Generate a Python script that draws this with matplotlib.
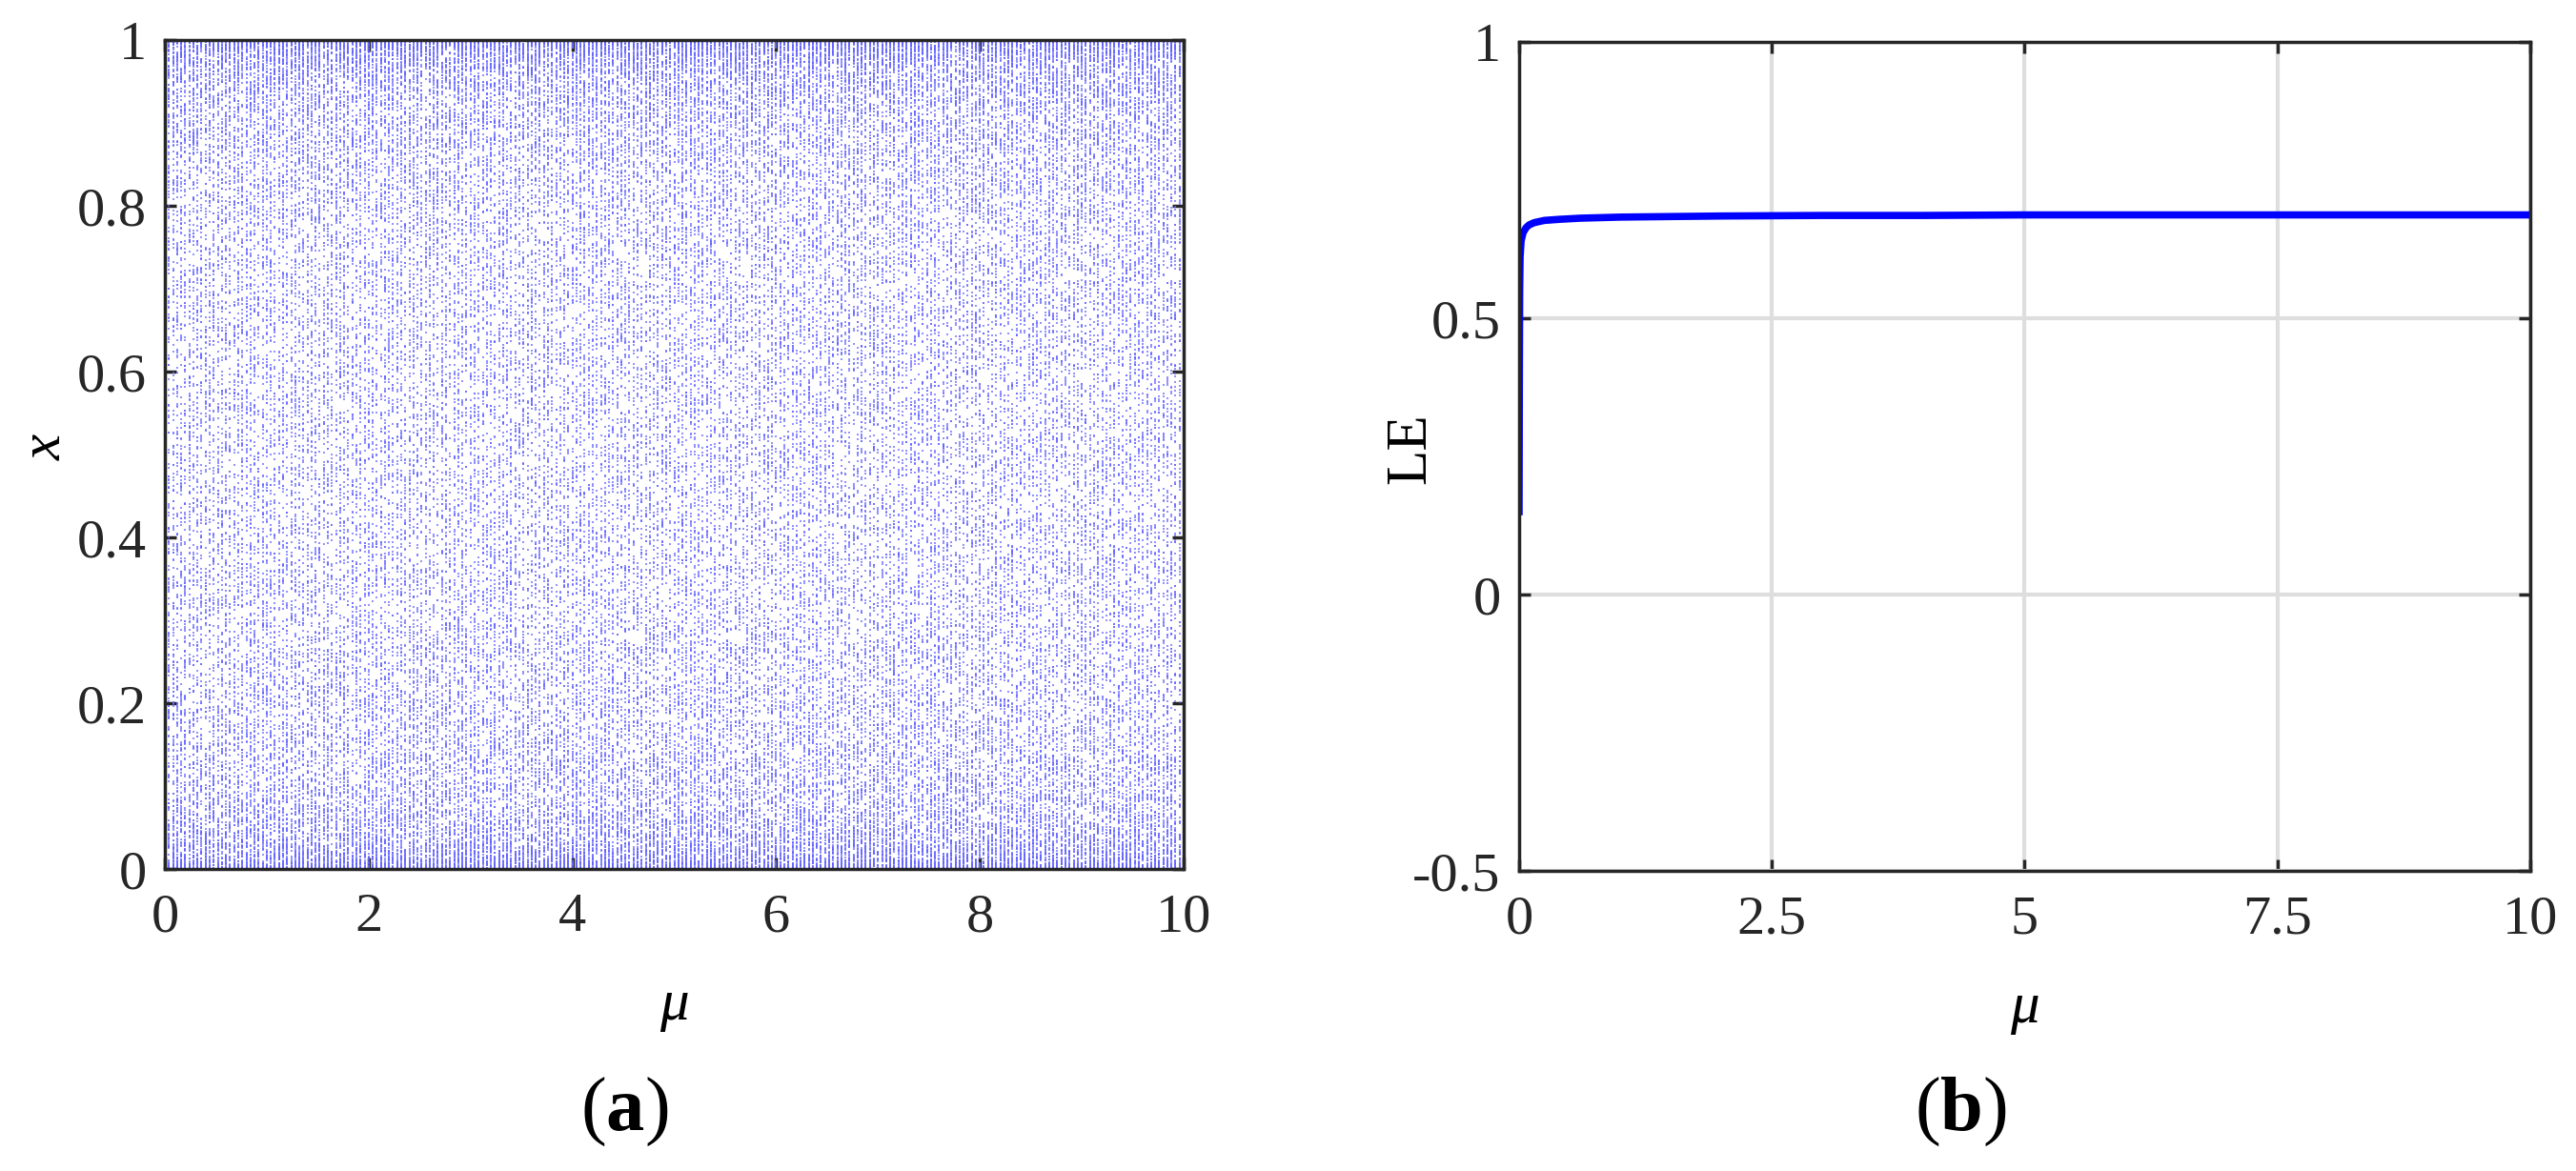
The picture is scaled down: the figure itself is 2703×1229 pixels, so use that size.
import numpy as np
import matplotlib
matplotlib.use("Agg")
import matplotlib.pyplot as plt

# (a) bifurcation scan: parameter grid and the map settings
mu_grid = np.arange(0.0, 10.0001, 0.04)
theta_start = 0.3
slope_k = 2.001
n_transient = 300
n_keep = 320

# (b) Lyapunov exponent
mu_le = [0.0, 0.003, 0.006, 0.01, 0.02, 0.04, 0.07, 0.1, 0.15, 0.25, 0.4,
         0.6, 1.0, 1.5, 2.0, 3.0, 4.0, 5.0, 6.0, 7.0, 8.0, 9.0, 10.0]
le_vals = [0.15, 0.40, 0.55, 0.61, 0.64, 0.655, 0.664, 0.669, 0.673, 0.677, 0.679,
           0.681, 0.683, 0.684, 0.685, 0.686, 0.686, 0.687, 0.687, 0.687, 0.687, 0.687, 0.687]

a_xticks = [0, 2, 4, 6, 8, 10]
a_yticks = [0, 0.2, 0.4, 0.6, 0.8, 1]
a_ylabels = ["0", "0.2", "0.4", "0.6", "0.8", "1"]
b_xticks = [0, 2.5, 5, 7.5, 10]
b_xlabels = ["0", "2.5", "5", "7.5", "10"]
b_yticks = [-0.5, 0, 0.5, 1]
b_ylabels = ["-0.5", "0", "0.5", "1"]

plt.rcParams["font.family"] = ["Liberation Serif", "DejaVu Serif"]
plt.rcParams["mathtext.fontset"] = "custom"
plt.rcParams["mathtext.rm"] = "Liberation Serif"
plt.rcParams["mathtext.it"] = "Liberation Serif:italic"
plt.rcParams["mathtext.bf"] = "Liberation Serif:bold"

edge = "#262626"
fig = plt.figure(figsize=(27.03, 12.29), dpi=100)

# ---- (a) ----
ax1 = fig.add_axes([0.0640, 0.2579, 0.3955, 0.7079])
theta = np.full(mu_grid.shape, theta_start)
for _ in range(n_transient):
    theta = np.mod(slope_k * theta + mu_grid, 1.0)
pts_mu, pts_x = [], []
for _ in range(n_keep):
    theta = np.mod(slope_k * theta + mu_grid, 1.0)
    pts_mu.append(mu_grid.copy())
    pts_x.append(np.sin(np.pi * theta) ** 2)
ax1.plot(np.concatenate(pts_mu), np.concatenate(pts_x), "s", ms=1.9,
         mew=0, color=(0.40, 0.40, 1.0), alpha=0.7)
ax1.set_xlim(0, 10)
ax1.set_ylim(0, 1)
ax1.set_xticks(a_xticks)
ax1.set_yticks(a_yticks)
ax1.set_xticklabels([str(t) for t in a_xticks])
ax1.set_yticklabels(a_ylabels)
ax1.set_xlabel(r"$\mu$", fontsize=44)
ax1.set_ylabel(r"$x$", fontsize=44)
ax1.xaxis.set_label_coords(0.5, -0.167)
ax1.xaxis.label.set_verticalalignment("center")
ax1.yaxis.set_label_coords(-0.117, 0.51)
ax1.yaxis.label.set_verticalalignment("center")

# ---- (b) ----
ax2 = fig.add_axes([0.5897, 0.2563, 0.3925, 0.7079])
ax2.plot(mu_le, le_vals, color="#0000ff", lw=5.5, solid_joinstyle="round")
ax2.set_xlim(0, 10)
ax2.set_ylim(-0.5, 1)
ax2.set_xticks(b_xticks)
ax2.set_xticklabels(b_xlabels)
ax2.set_yticks(b_yticks)
ax2.set_yticklabels(b_ylabels)
ax2.grid(True, color="#dedede", lw=3)
ax2.set_axisbelow(True)
ax2.set_xlabel(r"$\mu$", fontsize=44)
ax2.set_ylabel("LE", fontsize=44)
ax2.xaxis.set_label_coords(0.5, -0.168)
ax2.xaxis.label.set_verticalalignment("center")
ax2.yaxis.set_label_coords(-0.1065, 0.51)
ax2.yaxis.label.set_verticalalignment("center")

for ax in (ax1, ax2):
    for s in ax.spines.values():
        s.set_color(edge)
        s.set_linewidth(2.5)
    ax.tick_params(direction="in", length=8.5, width=2.5, color=edge,
                   top=True, right=True, labelsize=42, labelcolor=edge)
    ax.tick_params(axis="x", pad=18)
    ax.tick_params(axis="y", pad=14)

fig.text(0.2423, 0.0504, r"($\mathbf{a}$)", fontsize=58, ha="center", va="center", color="black")
fig.text(0.7610, 0.0504, r"($\mathbf{b}$)", fontsize=58, ha="center", va="center", color="black")

fig.savefig("out.png", dpi=100)
